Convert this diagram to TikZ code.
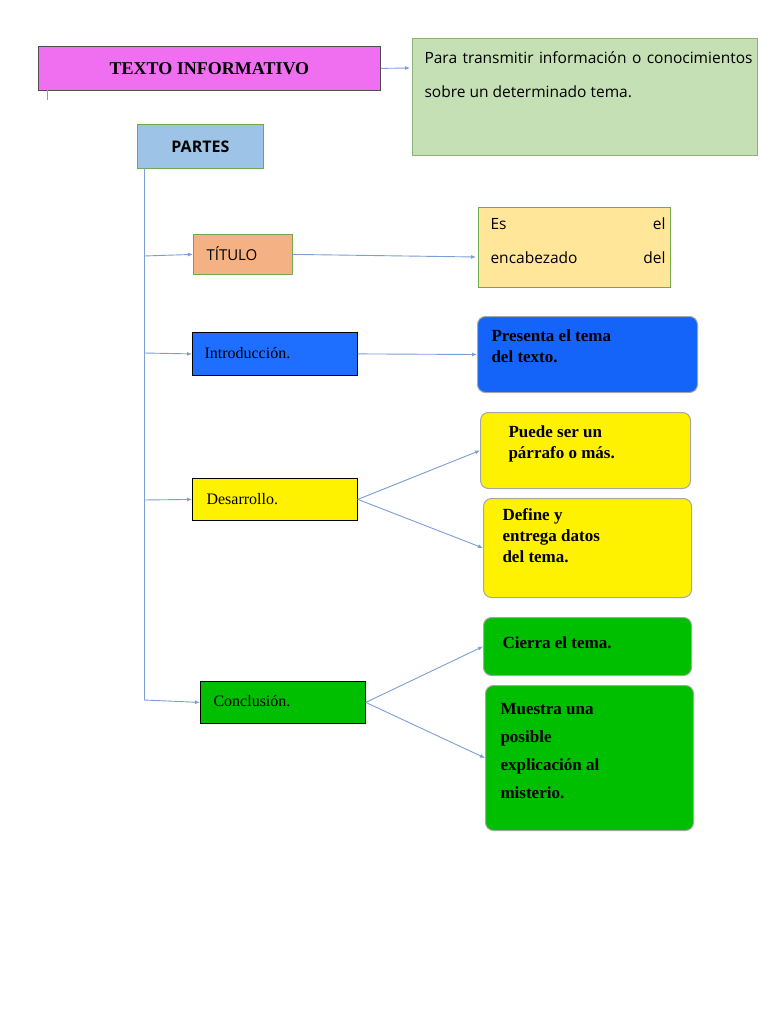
\documentclass[tikz,border=0pt]{standalone}
\usepackage{fontspec}
\setsansfont{Open Sans}
\setmainfont{Liberation Serif}
\usetikzlibrary{arrows.meta}
\definecolor{ln}{HTML}{7B9FD3}
\tikzset{
 x=1pt,y=-1pt,
 conn/.style={draw=ln,line width=0.9pt,-{Latex[length=5pt,width=4pt]}},
 sq/.style={draw,line width=0.8pt,inner sep=0pt},
 rb/.style={draw=gray!70,line width=1pt,rounded corners=8pt,inner sep=0pt},
 lbl/.style={font=\rmfamily\bfseries\fontsize{17}{21}\selectfont,align=left},
}
\begin{document}
\begin{tikzpicture}
\useasboundingbox[fill=white] (0,0) rectangle (768,1024);
% title
\node[sq,draw=black!70,fill={rgb,255:red,240;green,110;blue,240},minimum width=342,minimum height=44,anchor=north west] (ti) at (38,46) {};
\node[font=\rmfamily\bfseries\fontsize{18}{20}\selectfont] at (ti) {TEXTO INFORMATIVO};
\draw[ln,line width=0.8pt] (47,90) -- (47,100);
\node[sq,draw={rgb,255:red,140;green,180;blue,120},fill={rgb,255:red,197;green,224;blue,180},minimum width=345,minimum height=117,anchor=north west] (pt) at (412,38) {};
\node[font=\sffamily\fontsize{15.5}{34}\selectfont,text width=328,align=justify,anchor=north west] at (421,48) {Para transmitir información o conocimientos sobre un determinado tema.};
\draw[conn] (ti.east) -- (410,68);
% partes
\node[sq,draw={rgb,255:red,110;green,170;blue,80},fill={rgb,255:red,157;green,195;blue,230},minimum width=126,minimum height=44,anchor=north west,font=\sffamily\bfseries\fontsize{16}{18}\selectfont] (pa) at (137,124) {PARTES};
\coordinate (v0) at (144,168);
\coordinate (v1) at (144,700);
\draw[ln,line width=0.9pt] (v0) -- (v1);
% titulo
\node[sq,draw={rgb,255:red,110;green,170;blue,80},fill={rgb,255:red,244;green,177;blue,131},minimum width=99,minimum height=40,anchor=north west] (t1) at (193,234) {};
\node[font=\sffamily\fontsize{15}{18}\selectfont,anchor=west] at (203,254) {TÍTULO};
\node[sq,draw={rgb,255:red,110;green,170;blue,80},fill={rgb,255:red,255;green,230;blue,153},minimum width=192,minimum height=80,anchor=north west] (t2) at (478,207) {};
\node[font=\sffamily\fontsize{15.5}{34}\selectfont,text width=175,align=justify,anchor=north west] at (487,214) {Es \hfill el\\ encabezado \hfill del};
\draw[conn] (144,256) -- (t1.west);
\draw[conn] (t1.east) -- (476,257);
% intro
\node[sq,fill={rgb,255:red,30;green,110;blue,255},minimum width=165,minimum height=43,anchor=north west] (i1) at (192,332) {};
\node[font=\rmfamily\fontsize{16}{18}\selectfont,anchor=west] at (201,353) {Introducción.};
\node[rb,fill={rgb,255:red,20;green,100;blue,250},minimum width=220,minimum height=76,anchor=north west] (i2) at (477,316) {};
\node[lbl,anchor=north west] at (488,326) {Presenta el tema\\del texto.};
\draw[conn] (144,353) -- (i1.west);
\draw[conn] (i1.east) -- (i2.west);
% desarrollo
\node[sq,fill=yellow,minimum width=165,minimum height=42,anchor=north west] (d1) at (192,478) {};
\node[font=\rmfamily\fontsize{16}{18}\selectfont,anchor=west] at (203,499) {Desarrollo.};
\node[rb,fill=yellow,minimum width=210,minimum height=76,anchor=north west] (d2) at (480,412) {};
\node[lbl,anchor=north west] at (505,422) {Puede ser un\\párrafo o más.};
\node[rb,fill=yellow,minimum width=208,minimum height=99,anchor=north west] (d3) at (483,498) {};
\node[lbl,anchor=north west] at (499,505) {Define y\\entrega datos\\del tema.};
\draw[conn] (144,500) -- (d1.west);
\draw[conn] (d1.east) -- (d2.west);
\draw[conn] (d1.east) -- (d3.west);
% conclusion
\node[sq,fill={rgb,255:red,0;green,190;blue,0},minimum width=165,minimum height=42,anchor=north west] (c1) at (200,681) {};
\node[font=\rmfamily\fontsize{16}{18}\selectfont,anchor=west] at (210,701) {Conclusión.};
\node[rb,fill={rgb,255:red,0;green,190;blue,0},minimum width=208,minimum height=58,anchor=north west] (c2) at (483,617) {};
\node[lbl,anchor=west] at (499,643) {Cierra el tema.};
\node[rb,fill={rgb,255:red,0;green,190;blue,0},minimum width=208,minimum height=145,anchor=north west] (c3) at (485,685) {};
\node[lbl,anchor=north west,font=\rmfamily\bfseries\fontsize{17}{28}\selectfont] at (497,700) {Muestra una\\posible\\explicación al\\misterio.};
\draw[conn] (v1) -- (c1.west);
\draw[conn] (c1.east) -- (c2.west);
\draw[conn] (c1.east) -- (c3.west);
\end{tikzpicture}
\end{document}
